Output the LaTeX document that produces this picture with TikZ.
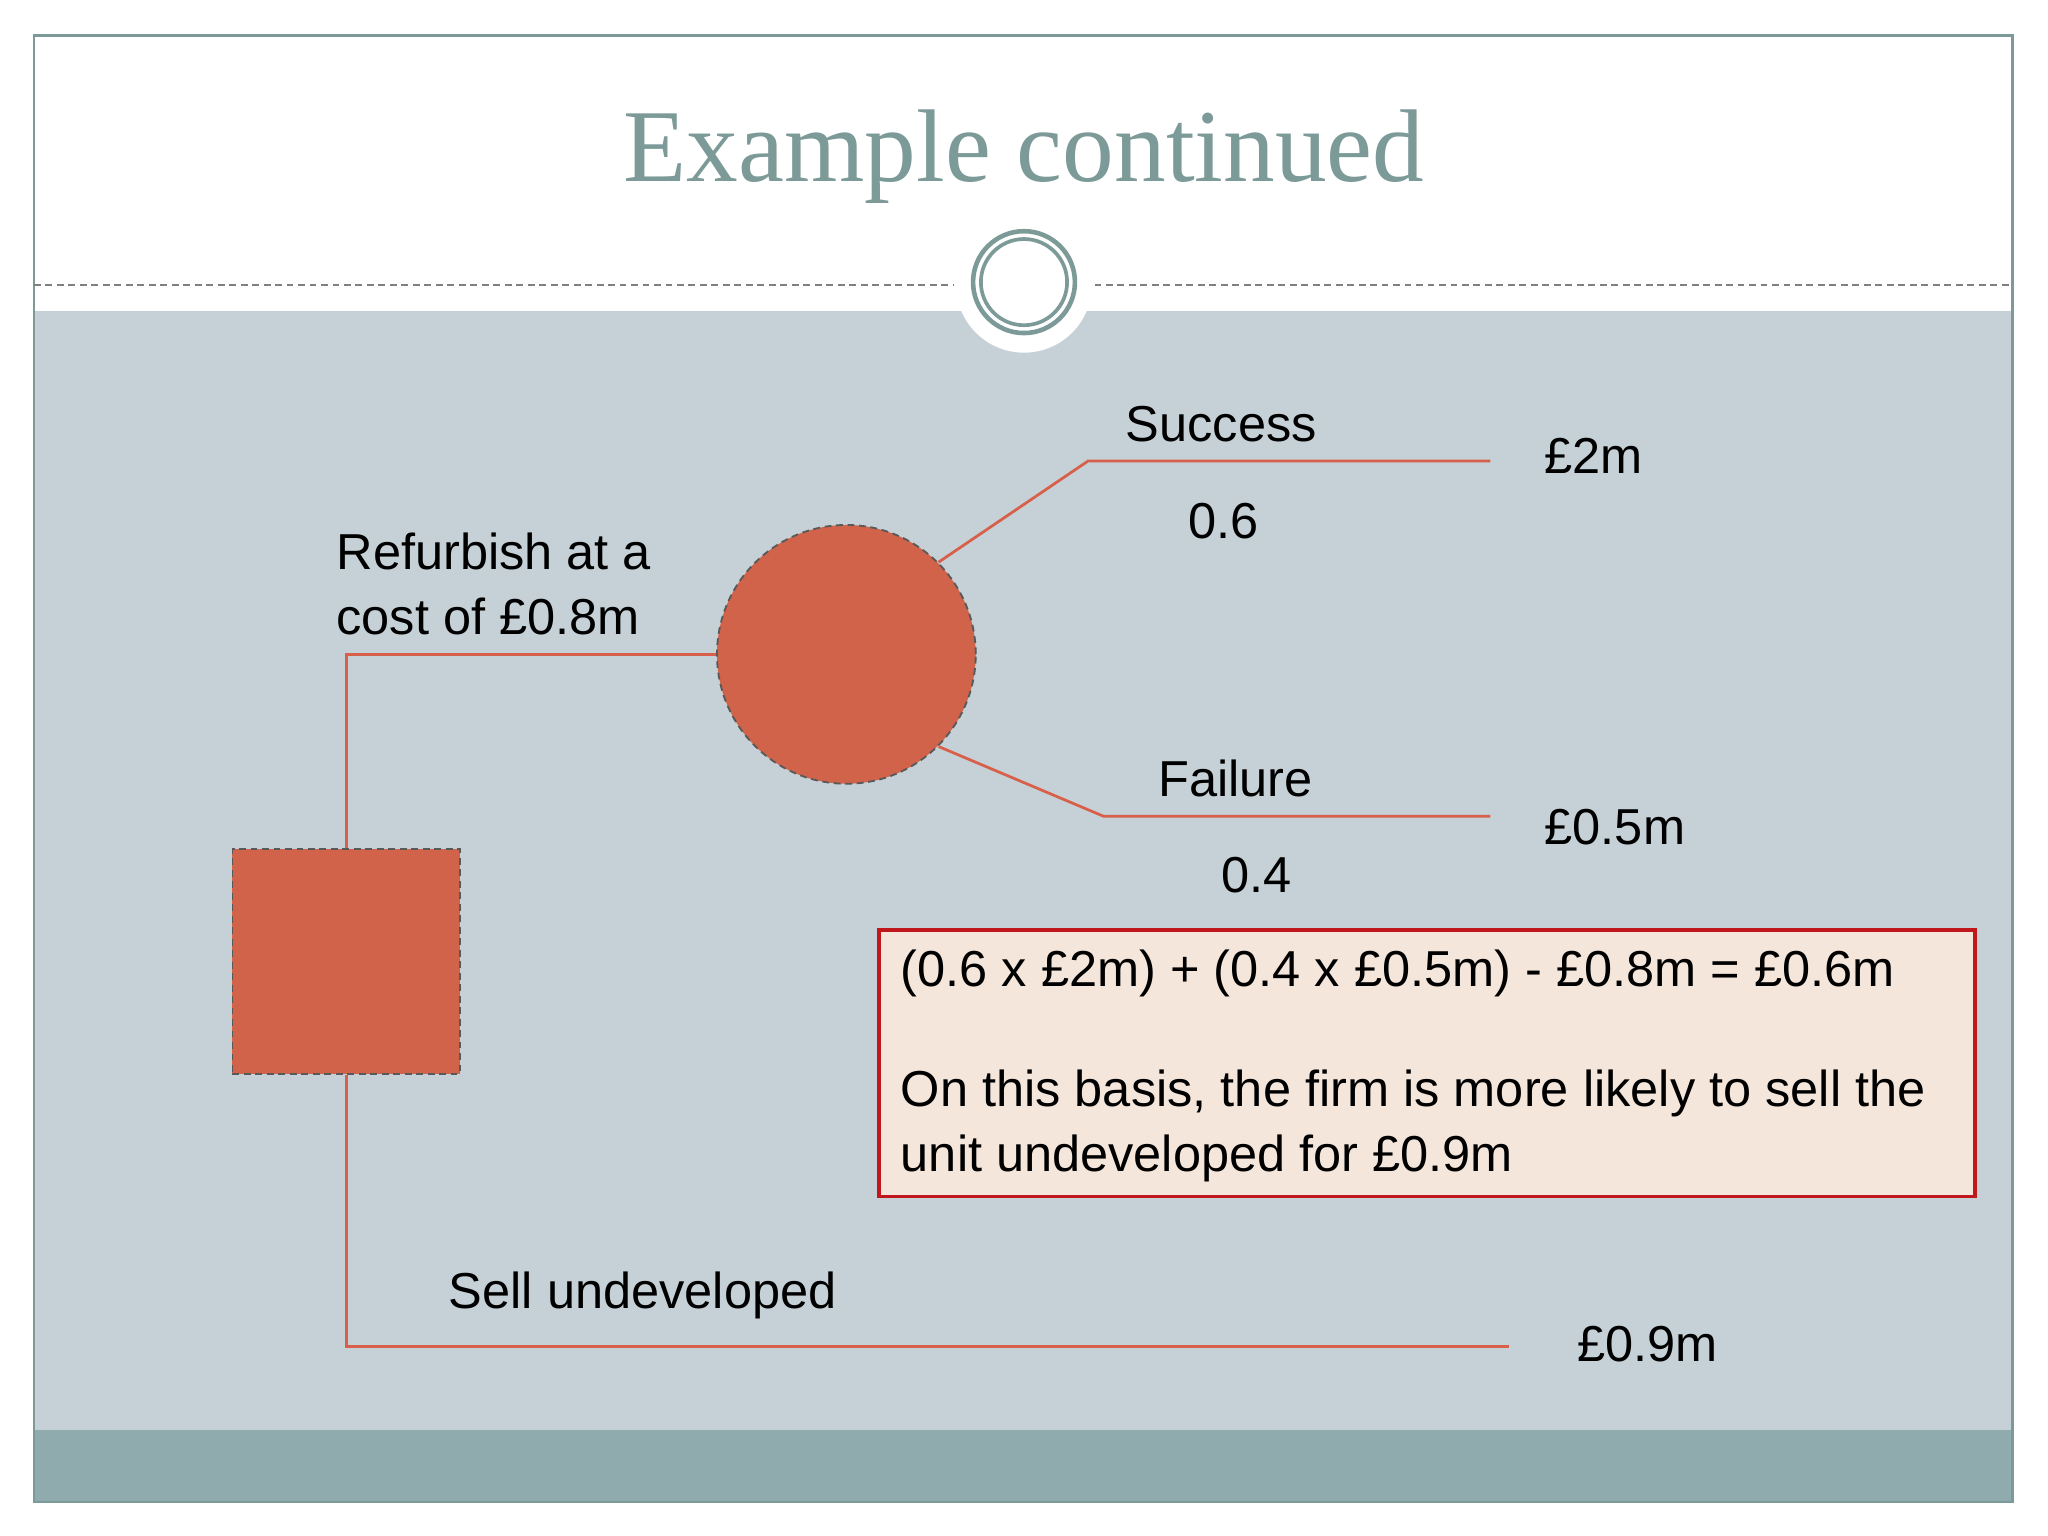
\documentclass[tikz,border=0pt]{standalone}
\usepackage{fontspec}
\setmainfont{Liberation Sans}
\newfontfamily\titlefont{Liberation Serif}
\definecolor{bgc}{HTML}{C5D1D7}
\definecolor{band}{HTML}{8FABAE}
\definecolor{teal}{HTML}{7C9A98}
\definecolor{org}{HTML}{D06349}
\definecolor{ln}{HTML}{D8604A}
\definecolor{boxf}{HTML}{F5E6DC}
\definecolor{boxb}{HTML}{C0171C}
\begin{document}
\begin{tikzpicture}[x=0.01cm,y=-0.01cm,
  lbl/.style={font=\fontsize{11}{13.5}\selectfont,inner sep=0pt},
  br/.style={draw=ln,line width=0.6pt},
  fine/.style={dash pattern=on 1.5pt off 1pt}]
\useasboundingbox (0,0) rectangle (1568,1176);
\fill[white] (0,0) rectangle (1568,1176);
\fill[bgc] (26,238) rectangle (1541,1095);
\fill[band] (26,1095) rectangle (1541,1150);
\draw[teal,line width=0.6pt] (26,27) rectangle (1541,1150);
\draw[gray,fine,line width=0.4pt] (26,218) -- (730,218) (838,218) -- (1541,218);
\fill[white] (784,218) circle (52);
\draw[teal,line width=1pt] (784,216) circle (39);
\draw[teal,line width=0.8pt] (784,216) circle (33);
\node[font=\titlefont\fontsize{22.5}{27}\selectfont,text=teal] (title) at (784,120) {Example continued};
\node[draw=gray!70!black,fine,fill=org,minimum width=1.74cm,minimum height=1.72cm,inner sep=0pt] (sq) at (265,736) {};
\node[draw=gray!70!black,fine,fill=org,circle,minimum size=1.98cm,inner sep=0pt] (ch) at (648,501) {};
\coordinate (c1) at (265,501);
\coordinate (c2) at (265,1031);
\coordinate (e3) at (1155,1031);
\coordinate (s1) at (833,353);
\coordinate (s2) at (1141,353);
\coordinate (f1) at (845,625);
\coordinate (f2) at (1141,625);
\draw[br] (sq.north) -- (c1) -- (ch.west);
\draw[br] (sq.south) -- (c2) -- (e3);
\draw[br] (ch.45) -- (s1) -- (s2);
\draw[br] (ch.-45) -- (f1) -- (f2);
\node[lbl] (succ) at (935,325) {Success};
\node[lbl] (p6) at (937,399) {0.6};
\node[lbl,anchor=west] (v2) at (1182,349) {£2m};
\node[lbl] (fail) at (946,596) {Failure};
\node[lbl] (p4) at (962,670) {0.4};
\node[lbl,anchor=west] (v05) at (1182,633) {£0.5m};
\node[lbl,anchor=west,align=left] (ref) at (257,447) {Refurbish at a\\[0.5pt]cost of £0.8m};
\node[lbl,anchor=west] (sell) at (343,992) {Sell undeveloped};
\node[lbl,anchor=west] (v09) at (1207,1029) {£0.9m};
\draw[boxb,fill=boxf,line width=0.8pt] (673,712) rectangle (1512,916);
\node[lbl,anchor=west] (calc) at (689,745) {(0.6 x £2m) + (0.4 x £0.5m) - £0.8m = £0.6m};
\node[lbl,anchor=west,align=left] (conc) at (689,862) {On this basis, the firm is more likely to sell the\\[0.5pt]unit undeveloped for £0.9m};
\end{tikzpicture}
\end{document}
